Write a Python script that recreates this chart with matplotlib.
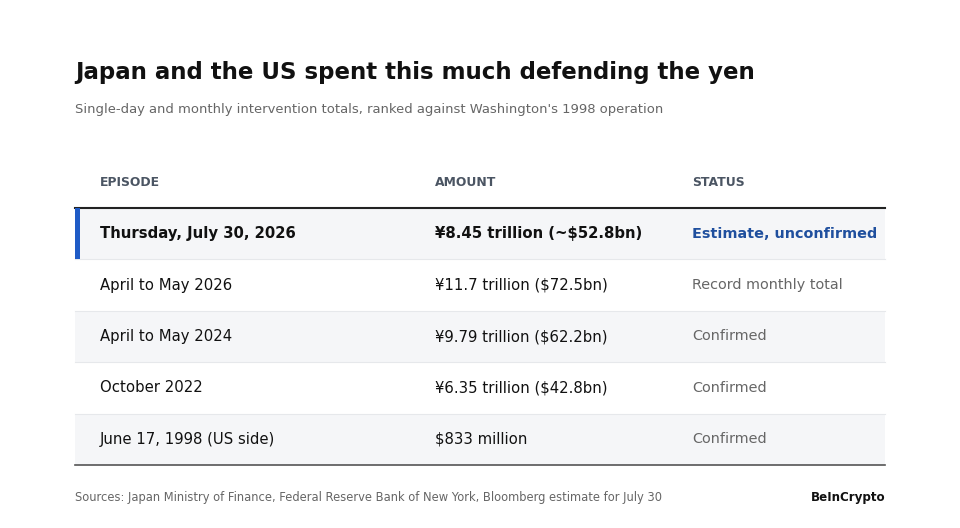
import matplotlib.pyplot as plt
from matplotlib.patches import Rectangle

plt.rcParams['font.family'] = ['DejaVu Sans']

# -------------------------
# DADOS
# -------------------------
title = "Japan and the US spent this much defending the yen"
subtitle = "Single-day and monthly intervention totals, ranked against Washington's 1998 operation"
columns = ["EPISODE", "AMOUNT", "STATUS"]
episodes = [
    "Thursday, July 30, 2026",
    "April to May 2026",
    "April to May 2024",
    "October 2022",
    "June 17, 1998 (US side)",
]
amounts = [
    "¥8.45 trillion (~$52.8bn)",
    "¥11.7 trillion ($72.5bn)",
    "¥9.79 trillion ($62.2bn)",
    "¥6.35 trillion ($42.8bn)",
    "$833 million",
]
statuses = [
    "Estimate, unconfirmed",
    "Record monthly total",
    "Confirmed",
    "Confirmed",
    "Confirmed",
]
highlight = 0
source = "Sources: Japan Ministry of Finance, Federal Reserve Bank of New York, Bloomberg estimate for July 30"
brand = "BeInCrypto"

# -------------------------
# LAYOUT (pixels)
# -------------------------
W, H = 960, 528
left, right = 75, 885
col_x = [100, 435, 692]
header_y = 182
table_top = 208
row_h = 51.4

fig = plt.figure(figsize=(9.6, 5.28), dpi=100)
ax = fig.add_axes([0, 0, 1, 1])
ax.set_xlim(0, W)
ax.set_ylim(H, 0)
ax.axis("off")

ax.text(left, 72, title, fontsize=16.5, fontweight="bold", color="#111111", va="center")
ax.text(left, 109, subtitle, fontsize=9.45, color="#666666", va="center")

for x, c in zip(col_x, columns):
    ax.text(x, header_y, c, fontsize=8.9, fontweight="bold", color="#4b5563", va="center")

for i in range(len(episodes)):
    y0 = table_top + i * row_h
    yc = y0 + row_h / 2
    if i % 2 == 0:
        ax.add_patch(Rectangle((left, y0), right - left, row_h, color="#f5f6f8", lw=0, zorder=0))
    if i > 0:
        ax.plot([left, right], [y0, y0], color="#e6e8eb", lw=0.8, zorder=1)
    is_hl = i == highlight
    weight = "bold" if is_hl else "normal"
    ax.text(col_x[0], yc, episodes[i], fontsize=10.7, fontweight=weight, color="#111111", va="center")
    ax.text(col_x[1], yc, amounts[i], fontsize=10.7, fontweight=weight, color="#111111", va="center")
    ax.text(col_x[2], yc, statuses[i], fontsize=10.4, fontweight=weight,
            color="#1f4f9e" if is_hl else "#666666", va="center")
    if is_hl:
        ax.add_patch(Rectangle((left, y0), 5, row_h, color="#1f5bc6", lw=0, zorder=3))

table_bottom = table_top + len(episodes) * row_h
ax.plot([left, right], [table_top, table_top], color="#222222", lw=1.5, zorder=2)
ax.plot([left, right], [table_bottom, table_bottom], color="#555555", lw=1.2, zorder=2)

ax.text(left, 497, source, fontsize=8.3, color="#666666", va="center")
ax.text(right, 497, brand, fontsize=8.6, fontweight="bold", color="#111111", va="center", ha="right")

fig.savefig("out.png", dpi=100, facecolor="white")
